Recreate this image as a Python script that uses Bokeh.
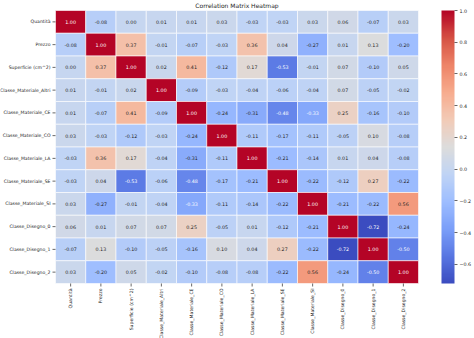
import numpy as np
from bokeh.plotting import figure
from bokeh.models import (ColumnDataSource, LinearColorMapper, ColorBar, FixedTicker,
                          CustomJSTickFormatter, Range1d)
from bokeh.embed import file_html
from bokeh.resources import INLINE
from bokeh.core.properties import value

# ---- data -------------------------------------------------------------
labels = ["Quantità", "Prezzo", "Superficie (cm^2)", "Classe_Materiale_Altri",
          "Classe_Materiale_CE", "Classe_Materiale_CO", "Classe_Materiale_LA",
          "Classe_Materiale_SE", "Classe_Materiale_SI", "Classe_Disegno_0",
          "Classe_Disegno_1", "Classe_Disegno_2"]

row_quantita = [1.00, -0.08, 0.00, 0.01, 0.01, 0.03, -0.03, -0.03, 0.03, 0.06, -0.07, 0.03]
row_prezzo = [-0.08, 1.00, 0.37, -0.01, -0.07, -0.03, 0.36, 0.04, -0.27, 0.01, 0.13, -0.20]
row_superficie = [0.00, 0.37, 1.00, 0.02, 0.41, -0.12, 0.17, -0.53, -0.01, 0.07, -0.10, 0.05]
row_altri = [0.01, -0.01, 0.02, 1.00, -0.09, -0.03, -0.04, -0.06, -0.04, 0.07, -0.05, -0.02]
row_ce = [0.01, -0.07, 0.41, -0.09, 1.00, -0.24, -0.31, -0.48, -0.33, 0.25, -0.16, -0.10]
row_co = [0.03, -0.03, -0.12, -0.03, -0.24, 1.00, -0.11, -0.17, -0.11, -0.05, 0.10, -0.08]
row_la = [-0.03, 0.36, 0.17, -0.04, -0.31, -0.11, 1.00, -0.21, -0.14, 0.01, 0.04, -0.08]
row_se = [-0.03, 0.04, -0.53, -0.06, -0.48, -0.17, -0.21, 1.00, -0.22, -0.12, 0.27, -0.22]
row_si = [0.03, -0.27, -0.01, -0.04, -0.33, -0.11, -0.14, -0.22, 1.00, -0.21, -0.22, 0.56]
row_d0 = [0.06, 0.01, 0.07, 0.07, 0.25, -0.05, 0.01, -0.12, -0.21, 1.00, -0.72, -0.24]
row_d1 = [-0.07, 0.13, -0.10, -0.05, -0.16, 0.10, 0.04, 0.27, -0.22, -0.72, 1.00, -0.50]
row_d2 = [0.03, -0.20, 0.05, -0.02, -0.10, -0.08, -0.08, -0.22, 0.56, -0.24, -0.50, 1.00]

rows = [row_quantita, row_prezzo, row_superficie, row_altri, row_ce, row_co,
        row_la, row_se, row_si, row_d0, row_d1, row_d2]

cbar_ticks = [-0.6, -0.4, -0.2, 0.0, 0.2, 0.4, 0.6, 0.8, 1.0]

# ---- colormap (coolwarm) ---------------------------------------------
stops = ["#3b4cc0", "#5977e3", "#7b9ff9", "#9ebeff", "#c0d4f5", "#dddcdc",
         "#f2cbb7", "#f7ac8e", "#ee8468", "#d65244", "#b40426"]
srgb = np.array([[int(s[i:i + 2], 16) for i in (1, 3, 5)] for s in stops], float)
pos = np.linspace(0, 1, len(stops))
t = np.linspace(0, 1, 256)
pal = []
for k in range(256):
    r, g, b = (np.interp(t[k], pos, srgb[:, c]) for c in range(3))
    pal.append("#%02x%02x%02x" % (int(round(r)), int(round(g)), int(round(b))))

vals = np.array(rows)
vmin, vmax = float(vals.min()), float(vals.max())
mapper = LinearColorMapper(palette=pal, low=vmin, high=vmax)

xs, ys, vs, txt, tcol = [], [], [], [], []
for i, row in enumerate(rows):
    for j, v in enumerate(row):
        xs.append(j + 0.5)
        ys.append(i + 0.5)
        vs.append(v)
        txt.append(f"{v:.2f}")
        tcol.append("white" if (v <= -0.33 or v >= 0.99) else "#262626")
src = ColumnDataSource(dict(x=xs, y=ys, v=vs, t=txt, c=tcol))

FONT = "DejaVu Sans"
W, H = 474, 338
L, R, T, B = 55, 418, 10, 283          # heatmap area in pixels
n = len(labels)
ux = (R - L) / n
uy = (B - T) / n

p = figure(width=W, height=H,
           x_range=Range1d(-L / ux, n + (W - R) / ux),
           y_range=Range1d(n + (H - B) / uy, -T / uy),
           toolbar_location=None, output_backend="svg",
           x_axis_location=None, y_axis_location=None, min_border=0)
p.outline_line_color = None
p.grid.visible = False
p.background_fill_color = "white"
p.border_fill_color = "white"

p.rect(x="x", y="y", width=1, height=1, source=src,
       fill_color={"field": "v", "transform": mapper},
       line_color="white", line_width=0.6)
p.text(x="x", y="y", text="t", source=src, text_color="c",
       text_align="center", text_baseline="middle",
       text_font=value(FONT), text_font_size="4.8px")

ticks = [k + 0.5 for k in range(n)]
lab = ColumnDataSource(dict(pos=ticks, zero=[0] * n, end=[n] * n, t=labels))

# tick marks
p.ray(x="zero", y="pos", source=lab, length=3, length_units="screen",
      angle=np.pi, line_color="#262626", line_width=0.7)
p.ray(x="pos", y="end", source=lab, length=3, length_units="screen",
      angle=-np.pi / 2, line_color="#262626", line_width=0.7)

# tick labels
p.text(x="zero", y="pos", text="t", source=lab, x_offset=-5,
       text_align="right", text_baseline="middle",
       text_font=value(FONT), text_font_size="4.6px", text_color="#262626")
p.text(x="pos", y="end", text="t", source=lab, y_offset=5,
       angle=np.pi / 2, text_align="right", text_baseline="middle",
       text_font=value(FONT), text_font_size="4.6px", text_color="#262626")

# title
p.text(x=[n / 2], y=[0], text=["Correlation Matrix Heatmap"], y_offset=-5,
       text_align="center", text_baseline="middle",
       text_font=value(FONT), text_font_size="6px", text_color="#262626")

cb = ColorBar(color_mapper=mapper, width=13, height=B - T, padding=0,
              location=(441, H - B),
              ticker=FixedTicker(ticks=cbar_ticks),
              formatter=CustomJSTickFormatter(code="return tick.toFixed(1).replace('-', '\u2212');"),
              major_label_text_font_size="4.8px", major_label_text_font=FONT,
              major_label_text_color="#262626", label_standoff=2,
              major_tick_in=0, major_tick_out=3, major_tick_line_color="#262626",
              major_tick_line_width=0.7, bar_line_color=None, border_line_color=None,
              background_fill_color=None, minor_tick_line_color=None)
p.add_layout(cb, "center")

open("out.html", "w").write(file_html(p, INLINE))
